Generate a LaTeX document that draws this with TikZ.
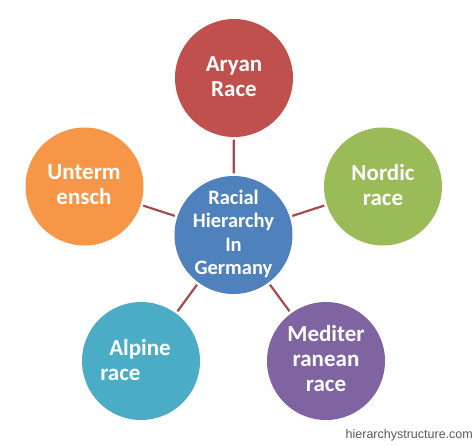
\documentclass[tikz,border=0pt]{standalone}
\usepackage{fontspec}
\setmainfont{Carlito}
\newfontfamily\wmfont{Liberation Sans}
\definecolor{cred}{RGB}{192,80,77}
\definecolor{cgreen}{RGB}{155,187,89}
\definecolor{cpurple}{RGB}{128,100,162}
\definecolor{ccyan}{RGB}{75,172,198}
\definecolor{corange}{RGB}{247,150,70}
\definecolor{cblue}{RGB}{79,129,189}
\definecolor{linkc}{RGB}{165,75,80}
\tikzset{
  circ/.style={circle, minimum size=118pt, inner sep=0pt, draw=none},
  txt/.style={text=white, font=\bfseries\fontsize{23}{25}\selectfont, align=center, inner sep=0pt},
  ctxt/.style={text=white, font=\bfseries\fontsize{20.5}{23.2}\selectfont, align=center, inner sep=0pt},
  link/.style={draw=linkc, line width=2.2pt, shorten <=2.5pt, shorten >=2.5pt}
}
\begin{document}
\begin{tikzpicture}[x=1pt,y=-1pt]
\useasboundingbox (0,0) rectangle (474,445);
\node[circ, fill=cblue]   (cen) at (233.5,235) {};
\node[circ, fill=cred]    (ary) at (234,78) {};
\node[circ, fill=cgreen]  (nor) at (383,186.5) {};
\node[circ, fill=cpurple] (med) at (326,361) {};
\node[circ, fill=ccyan]   (alp) at (141,361) {};
\node[circ, fill=corange] (unt) at (84.5,186.5) {};
\draw[link] (cen) -- (ary);
\draw[link] (cen) -- (nor);
\draw[link] (cen) -- (med);
\draw[link] (cen) -- (alp);
\draw[link] (cen) -- (unt);
\node[ctxt] (cent) at (233.5,234) {Racial\\Hierarchy\\In\\Germany};
\node[txt] (aryt) at (234,77) {Aryan\\Race};
\node[txt] (nort) at (383,185) {Nordic\\race};
\node[txt] (medt) at (326,359) {Mediter\\ranean\\race};
\node[txt, align=left] (alpt) at (135.5,360) {\hspace{9pt}Alpine\\race};
\node[txt] (untt) at (84,185) {Unterm\\ensch};
\node[text=black!65, font=\wmfont\fontsize{12.5}{14}\selectfont, anchor=east, inner sep=0pt] (wm) at (473,435) {hierarchystructure.com};
\end{tikzpicture}
\end{document}
